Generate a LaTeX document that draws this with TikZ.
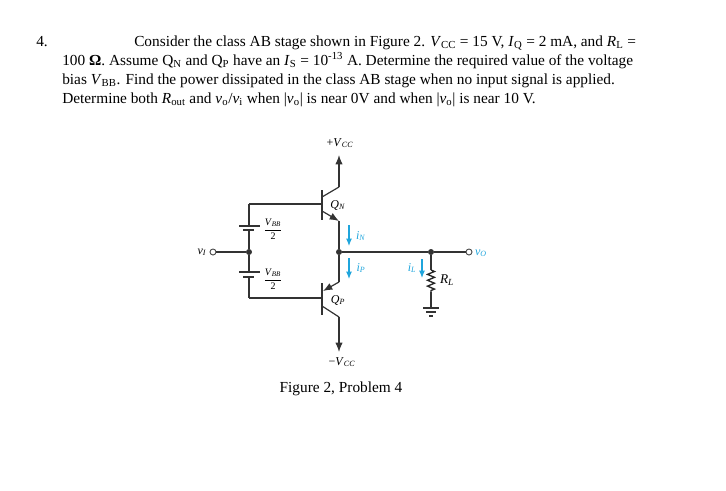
\documentclass[tikz,border=0pt]{standalone}
\usepackage{amsmath}
\usepackage{fontspec}
\setmainfont{Liberation Serif}
\usetikzlibrary{arrows.meta,decorations.pathmorphing}

\definecolor{currentblue}{HTML}{1FA5DC}

\newcommand{\vsub}[2]{\textit{#1}\textsubscript{#2}}
\newcommand{\vbbhalf}{$\dfrac{\mbox{\vsub{V}{\textit{BB}}}}{\mbox{2}}$}

\tikzset{
  wire/.style={draw=black!80,line width=0.9pt},
  headed/.style={wire,-{Latex[length=7pt,width=5.5pt]}},
  plate/.style={draw=black!80,line width=1.2pt},
  bar/.style={draw=black!80,line width=1.6pt},
  dot/.style={circle,fill=black!80,inner sep=0pt,minimum size=4.5pt},
  terminal/.style={circle,draw=black!70,line width=0.7pt,fill=white,inner sep=0pt,minimum size=4.5pt},
  current/.style={draw=currentblue,line width=0.9pt,-{Latex[length=5.5pt,width=4.5pt]}},
  para/.style={anchor=base west,inner sep=0pt,font=\fontsize{11.5}{14}\selectfont},
  lab/.style={inner sep=0pt,font=\fontsize{9}{10}\selectfont},
  clab/.style={lab,text=currentblue}
}

\begin{document}
\begin{tikzpicture}[x=0.75pt,y=-0.75pt]
      \useasboundingbox (0,0) rectangle (726,490);

      \node[para] (num) at (36,46) {4.};
      \node[para] (line1) at (134,46) {Consider the class AB stage shown in Figure 2. \vsub{V}{CC} = 15 V, \vsub{I}{Q} = 2 mA, and \vsub{R}{L} =};
      \node[para] (line2) at (62,65) {100 \textbf{Ω}. Assume Q\textsubscript{N} and Q\textsubscript{P} have an \vsub{I}{S} = 10\textsuperscript{-13} A. Determine the required value of the voltage};
      \node[para] (line3) at (62,84) {bias \vsub{V}{BB}. Find the power dissipated in the class AB stage when no input signal is applied.};
      \node[para] (line4) at (62,103) {Determine both \vsub{R}{out} and \vsub{v}{o}/\vsub{v}{i} when |\vsub{v}{o}| is near 0V and when |\vsub{v}{o}| is near 10 V.};
      \node[para,anchor=center] (caption) at (341,389) {Figure 2, Problem 4};

      % junctions
      \node[dot] (in) at (249,252) {};
      \node[dot] (mid) at (339,252) {};
      \node[dot] (load) at (431,252) {};
      \node[terminal] (vi) at (213,252) {};
      \node[terminal] (vo) at (469,252) {};

      % upper transistor
      \coordinate (nbase) at (322,204);
      \coordinate (nbartop) at (322,190);
      \coordinate (nbarbot) at (322,220);
      \coordinate (ncolin) at (322,197);
      \coordinate (ncol) at (339,187);
      \coordinate (nemin) at (322,211);
      \coordinate (nem) at (339,221);
      \coordinate (vcc) at (339,155);

      % lower transistor
      \coordinate (pbase) at (322,298);
      \coordinate (pbartop) at (322,283);
      \coordinate (pbarbot) at (322,315);
      \coordinate (pemin) at (323,291);
      \coordinate (pem) at (339,282);
      \coordinate (pcolin) at (322,306);
      \coordinate (pcol) at (339,317);
      \coordinate (vee) at (339,352);

      % batteries
      \coordinate (b1l) at (239,226);
      \coordinate (b1r) at (260,226);
      \coordinate (b1sl) at (243,230);
      \coordinate (b1sr) at (254,230);
      \coordinate (b1t) at (249,226);
      \coordinate (b1b) at (249,230);
      \coordinate (ntop) at (249,204);
      \coordinate (b2l) at (239,272);
      \coordinate (b2r) at (260,272);
      \coordinate (b2sl) at (243,277);
      \coordinate (b2sr) at (254,277);
      \coordinate (b2t) at (249,272);
      \coordinate (b2b) at (249,277);
      \coordinate (pbot) at (249,298);

      \draw[wire] (vi) -- (in);
      \draw[wire] (ntop) -- (b1t);
      \draw[wire] (b1b) -- (in);
      \draw[wire] (in) -- (b2t);
      \draw[wire] (b2b) -- (pbot);
      \draw[wire] (ntop) -- (nbase);
      \draw[wire] (pbot) -- (pbase);
      \draw[plate] (b1l) -- (b1r);
      \draw[plate] (b1sl) -- (b1sr);
      \draw[plate] (b2l) -- (b2r);
      \draw[plate] (b2sl) -- (b2sr);

      \draw[bar] (nbartop) -- (nbarbot);
      \draw[wire] (ncolin) -- (ncol);
      \draw[headed] (ncol) -- (vcc);
      \draw[headed] (nemin) -- (nem);
      \draw[wire] (nem) -- (mid);
      \draw[wire] (mid) -- (pem);
      \draw[headed] (pem) -- (pemin);
      \draw[bar] (pbartop) -- (pbarbot);
      \draw[wire] (pcolin) -- (pcol);
      \draw[headed] (pcol) -- (vee);

      % load
      \coordinate (rtop) at (431,270);
      \coordinate (rbot) at (431,292);
      \coordinate (gnd) at (431,308);
      \coordinate (g1l) at (423,308);
      \coordinate (g1r) at (439,308);
      \coordinate (g2l) at (426,312);
      \coordinate (g2r) at (436,312);
      \coordinate (g3l) at (429,316);
      \coordinate (g3r) at (433,316);
      \draw[wire] (mid) -- (load);
      \draw[wire] (load) -- (vo);
      \draw[wire] (load) -- (rtop);
      \draw[draw=black!85,line width=1pt,decorate,decoration={zigzag,amplitude=2.6pt,segment length=4.4pt}] (rtop) -- (rbot);
      \draw[wire] (rbot) -- (gnd);
      \draw[plate] (g1l) -- (g1r);
      \draw[plate] (g2l) -- (g2r);
      \draw[plate] (g3l) -- (g3r);

      % currents
      \coordinate (int) at (349,225);
      \coordinate (inb) at (349,246);
      \coordinate (ipt) at (349,258);
      \coordinate (ipb) at (349,279);
      \coordinate (ilt) at (422,259);
      \coordinate (ilb) at (422,278);
      \draw[current] (int) -- (inb);
      \draw[current] (ipt) -- (ipb);
      \draw[current] (ilt) -- (ilb);

      \node[lab] (lvcc) at (340,143) {+\vsub{V}{\textit{CC}}};
      \node[lab] (lvee) at (342,362) {−\vsub{V}{\textit{CC}}};
      \node[lab] (lqn) at (338,205) {\vsub{Q}{\textit{N}}};
      \node[lab] (lqp) at (338,300) {\vsub{Q}{\textit{P}}};
      \node[lab,font=\fontsize{7.5}{9}\selectfont] (lb1) at (273,229) {\vbbhalf};
      \node[lab,font=\fontsize{7.5}{9}\selectfont] (lb2) at (273,279) {\vbbhalf};
      \node[lab] (lvi) at (202,252) {\vsub{v}{\textit{I}}};
      \node[clab] (lin) at (361,236) {\vsub{i}{\textit{N}}};
      \node[clab] (lip) at (361,268) {\vsub{i}{\textit{P}}};
      \node[clab] (lil) at (412,268) {\vsub{i}{\textit{L}}};
      \node[clab] (lvo) at (481,253) {\vsub{v}{\textit{O}}};
      \node[lab,font=\fontsize{10}{11}\selectfont] (lrl) at (447,280) {\vsub{R}{\textit{L}}};
    \end{tikzpicture}
\end{document}
